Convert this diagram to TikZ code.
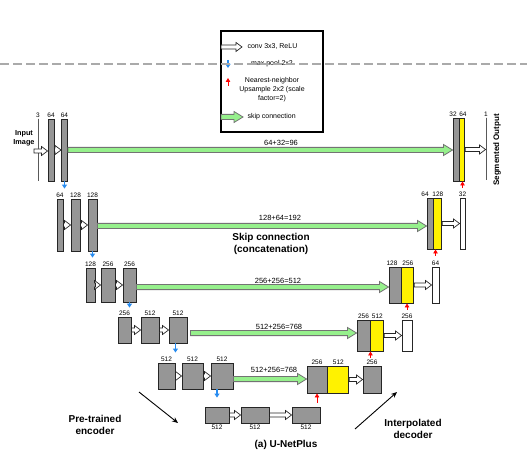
\documentclass[tikz,border=0pt]{standalone}
\usepackage{fontspec}
\setmainfont{Liberation Sans}
\usetikzlibrary{arrows.meta,calc,positioning}

\definecolor{layergray}{RGB}{150,150,150}
\definecolor{skipgreen}{RGB}{150,240,140}
\definecolor{poolblue}{RGB}{40,140,240}
\definecolor{dashgray}{RGB}{170,170,170}

\tikzset{
  layer/.style 2 args={draw=black!85, fill=layergray, line width=0.9pt, inner sep=0pt, minimum width=#1, minimum height=#2},
  catlayer/.style 2 args={layer={#1}{#2}, fill=yellow, anchor=west},
  outlayer/.style 2 args={layer={#1}{#2}, fill=white},
  chanline/.style={draw=black, line width=1pt, inner sep=0pt, minimum width=0pt, minimum height=#1},
  num/.style={font=\fontsize{6.5}{7}\selectfont, inner sep=1pt},
  sumlabel/.style={font=\fontsize{7.5}{8}\selectfont},
  legendtext/.style={font=\fontsize{7}{9}\selectfont, align=center},
  note/.style={font=\bfseries\fontsize{10}{12}\selectfont, align=center},
  convarrow/.style={draw=black!85, fill=white, line width=0.7pt},
  skiparrow/.style={draw=black!55, fill=skipgreen, line width=0.8pt},
  pool/.style={draw=poolblue, line width=1.4pt, -{Triangle[width=5pt,length=4pt]}},
  upsample/.style={draw=red, line width=0.8pt, -{Triangle[width=4.5pt,length=4pt]}},
  trend/.style={draw=black, line width=0.9pt, -{Stealth[length=6pt,width=5pt]}}
}

% horizontal block arrow: style, half shaft, half head, head length, from, to
\newcommand{\fatarrow}[6]{%
  \draw[#1] let \p1=(#5), \p2=(#6) in
    ({\x1},{\y1+#2}) -- ({\x2-#4},{\y1+#2}) -- ({\x2-#4},{\y1+#3}) -- ({\x2},{\y1})
    -- ({\x2-#4},{\y1-#3}) -- ({\x2-#4},{\y1-#2}) -- ({\x1},{\y1-#2}) -- cycle;}
\newcommand{\conv}[2]{\fatarrow{convarrow}{2pt}{4.5pt}{6pt}{#1}{#2}}
\newcommand{\skipto}[2]{\fatarrow{skiparrow}{2.6pt}{5.5pt}{9pt}{#1}{#2}}

\begin{document}
\begin{tikzpicture}[x=1pt,y=-1pt]
\useasboundingbox (0,0) rectangle (527,454);

\node[draw=black, line width=1.2pt, inner sep=0pt, minimum width=102pt, minimum height=101pt] (legend) at (272,81.5) {};
\coordinate (lgc1) at (221,47);
\coordinate (lgc2) at (242,47);
\coordinate (lgs1) at (221,117);
\coordinate (lgs2) at (243,117);
\coordinate (lgp1) at (228,60);
\coordinate (lgp2) at (228,68);
\coordinate (lgu1) at (228,86);
\coordinate (lgu2) at (228,78);
\conv{lgc1}{lgc2}
\skipto{lgs1}{lgs2}
\draw[pool] (lgp1) -- (lgp2);
\draw[upsample] (lgu1) -- (lgu2);
\node[legendtext, anchor=west] (lgconv) at (244,47) {conv 3x3, ReLU};
\node[legendtext] (lgpool) at (272,64) {max pool 2x2};
\node[legendtext] (lgup) at (272,90) {Nearest-neighbor\\Upsample 2x2 (scale\\factor=2)};
\node[legendtext, anchor=west] (lgskip) at (244,117) {skip connection};

\node[chanline=62pt, label={[num]above:3}] (e1in) at (38,150) {};
\node[layer={6pt}{62pt}, label={[num]above:64}] (e1a) at (51,150) {};
\node[layer={6pt}{62pt}, label={[num]above:64}] (e1b) at (64.5,150) {};
\node[font=\bfseries\fontsize{7.3}{8.8}\selectfont, align=center] (inimg) at (24,138) {Input\\Image};
\coordinate (in0) at (34,151);

\node[layer={6pt}{52pt}, label={[num]above:64}] (e2a) at (60,225) {};
\node[layer={9pt}{52pt}, label={[num]above:128}] (e2b) at (75.5,225) {};
\node[layer={9pt}{52pt}, label={[num]above:128}] (e2c) at (92.5,225) {};

\node[layer={9pt}{34pt}, label={[num]above:128}] (e3a) at (90.5,285) {};
\node[layer={14pt}{34pt}, label={[num]above:256}] (e3b) at (108,285) {};
\node[layer={13pt}{34pt}, label={[num]above:256}] (e3c) at (129.5,285) {};

\node[layer={13pt}{26pt}, label={[num]above:256}] (e4a) at (124.5,330) {};
\node[layer={18pt}{26pt}, label={[num]above:512}] (e4b) at (150,330) {};
\node[layer={18pt}{26pt}, label={[num]above:512}] (e4c) at (178,330) {};

\node[layer={17pt}{26pt}, label={[num]above:512}] (e5a) at (166.5,376) {};
\node[layer={21pt}{26pt}, label={[num]above:512}] (e5b) at (192.5,376) {};
\node[layer={22pt}{26pt}, label={[num]above:512}] (e5c) at (222,376) {};

\node[layer={24pt}{16pt}, label={[num]below:512}] (b1) at (217,415) {};
\node[layer={28pt}{16pt}, label={[num]below:512}] (b2) at (255,415) {};
\node[layer={28pt}{16pt}, label={[num]below:512}] (b3) at (306,415) {};

\node[layer={20pt}{27pt}, label={[num]above:256}] (d5g) at (317,379.5) {};
\node[catlayer={21pt}{27pt}, label={[num]above:512}] (d5y) at (d5g.east) {};
\node[layer={18pt}{27pt}, label={[num]above:256}] (o5) at (372,379.5) {};

\node[layer={13pt}{31pt}, label={[num]above:256}] (d4g) at (363.5,335.5) {};
\node[catlayer={13pt}{31pt}, label={[num]above:512}] (d4y) at (d4g.east) {};
\node[outlayer={10pt}{31pt}, label={[num]above:256}] (o4) at (407,335.5) {};

\node[layer={12pt}{36pt}, label={[num, xshift=-3pt]above:128}] (d3g) at (395,285) {};
\node[catlayer={12pt}{36pt}, label={[num]above:256}] (d3y) at (d3g.east) {};
\node[outlayer={7pt}{36pt}, label={[num]above:64}] (o3) at (435.5,285) {};

\node[layer={6pt}{51pt}, label={[num, xshift=-5pt]above:64}] (d2g) at (430,223.5) {};
\node[catlayer={8pt}{51pt}, label={[num]above:128}] (d2y) at (d2g.east) {};
\node[outlayer={5pt}{51pt}, label={[num]above:32}] (o2) at (462.5,223.5) {};

\node[layer={6pt}{63pt}, label={[num, xshift=-3pt]above:32}] (d1g) at (456,149.5) {};
\node[catlayer={5pt}{63pt}, label={[num, xshift=0.5pt]above:64}] (d1y) at (d1g.east) {};
\node[chanline=62pt, label={[num]above:1}] (out1) at (486,149) {};
\node[font=\bfseries\fontsize{8}{9}\selectfont, rotate=90] (segout) at (497,150) {Segmented Output};

\conv{in0}{e1a.west}
\conv{e1a.east}{e1b.west}
\conv{e2a.east}{e2b.west}
\conv{e2b.east}{e2c.west}
\conv{e3a.east}{e3b.west}
\conv{e3b.east}{e3c.west}
\conv{e4a.east}{e4b.west}
\conv{e4b.east}{e4c.west}
\conv{e5a.east}{e5b.west}
\conv{e5b.east}{e5c.west}
\conv{b1.east}{b2.west}
\conv{b2.east}{b3.west}
\conv{d1y.east}{out1.west}
\conv{d2y.east}{o2.west}
\conv{d3y.east}{o3.west}
\conv{d4y.east}{o4.west}
\conv{d5y.east}{o5.west}

\skipto{e1b.east}{d1g.west}
\skipto{[yshift=-1pt]e2c.east}{d2g.west}
\skipto{[yshift=-2pt]e3c.east}{d3g.west}
\skipto{[xshift=3pt,yshift=-3pt]e4c.east}{d4g.west}
\skipto{[yshift=-3pt]e5c.east}{d5g.west}

\node[sumlabel] (s1) at (281,143) {64+32=96};
\node[sumlabel] (s2) at (280,218) {128+64=192};
\node[sumlabel] (s3) at (278,281) {256+256=512};
\node[sumlabel] (s4) at (279,327) {512+256=768};
\node[sumlabel] (s5) at (274,370) {512+256=768};

\draw[pool, shorten >=10pt] (e1b.south) -- (e1b.south |- e2a.north);
\draw[pool, shorten >=10pt] (e2c.south) -- (e2c.south |- e3a.north);
\draw[pool, shorten >=9pt] (e3c.south) -- (e3c.south |- e4a.north);
\draw[pool, shorten >=10pt] (e4c.south -| e5a.east) -- (e5a.north east);
\draw[pool, shorten >=9pt] (e5c.south -| b1) -- (b1.north);

\draw[upsample, shorten <=10pt] (o2.north) -- (o2.north |- d1y.south);
\draw[upsample, shorten <=11pt] (o3.north) -- (o3.north |- d2y.south);
\draw[upsample, shorten <=10pt] (o4.north) -- (o4.north |- d3y.south);
\draw[upsample, shorten <=8pt] (d4y.south west |- o5.north) -- (d4y.south west);
\draw[upsample, shorten <=4pt] (d5g.south |- b3.north) -- (d5g.south);

\node[note] (skipnote) at (271,244) {Skip connection\\(concatenation)};
\node[note] (encnote) at (95,425) {Pre-trained\\encoder};
\node[note] (decnote) at (413,429) {Interpolated\\decoder};
\node[note] (title) at (286,445) {(a) U-NetPlus};

\coordinate (enc1) at (139,392);
\coordinate (enc2) at (178,423);
\coordinate (dec1) at (355,429);
\coordinate (dec2) at (397,392);
\draw[trend] (enc1) -- (enc2);
\draw[trend] (dec1) -- (dec2);

\coordinate (cutL) at (0,64);
\coordinate (cutR) at (527,64);
\draw[dashgray, line width=1.4pt, dash pattern=on 9pt off 4pt] (cutL) -- (cutR);
\end{tikzpicture}
\end{document}
